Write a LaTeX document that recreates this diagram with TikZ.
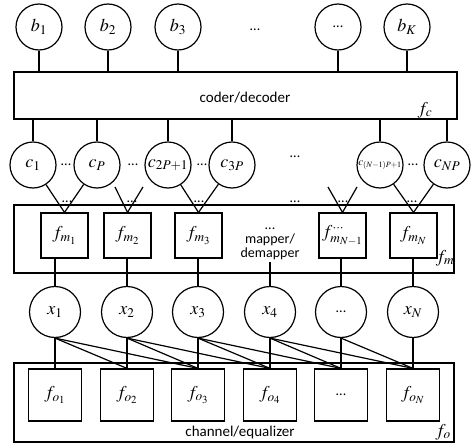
\documentclass[tikz,border=0pt]{standalone}
\usepackage{mathptmx}
\usepackage{fontspec}
\newfontfamily\sansf{Carlito}
\begin{document}
\begin{tikzpicture}[x=1pt,y=-1pt,line width=1.2pt,
  circ/.style={draw,circle,inner sep=0pt,font=\fontsize{18}{20}\selectfont},
  bc/.style={circ,minimum size=46pt},
  xc/.style={circ,minimum size=51pt},
  sq/.style={draw,rectangle,inner sep=0pt,font=\fontsize{18}{20}\selectfont},
  mb/.style={sq,minimum width=47pt,minimum height=45pt},
  ob/.style={sq,minimum width=53pt,minimum height=52pt},
  big/.style={draw,rectangle,inner sep=0pt},
  txt/.style={inner sep=0pt,font=\sansf\fontsize{15}{16}\selectfont},
  mtxt/.style={inner sep=0pt,anchor=base,font=\sansf\fontsize{14}{14}\selectfont},
  lab/.style={inner sep=0pt,font=\fontsize{18}{20}\selectfont},
  dots/.style={inner sep=0pt,anchor=base,font=\sansf\fontsize{14}{14}\selectfont}]
\useasboundingbox (0,0) rectangle (474,447);
% b row
\node[bc] (b1) at (39,27) {$b_1$};
\node[bc] (b2) at (108,27) {$b_2$};
\node[bc] (b3) at (178,27) {$b_3$};
\node[dots] (bd) at (255,30) {...};
\node[bc,font=\sansf\fontsize{14}{14}\selectfont] (b5) at (338,27) {...};
\node[bc] (bK) at (407,27) {$b_K$};
% coder box
\node[big,minimum width=443pt,minimum height=47pt] (coder) at (235.5,95.5) {};
\node[txt] (codertxt) at (245,98) {coder/decoder};
\node[lab] (fc) at (425,110) {$f_c$};
\foreach \n in {b1,b2,b3,b5,bK} \draw (\n) -- (\n |- coder.north);
% c row
\node[bc] (c1) at (33,165) {$c_1$};
\node[bc] (cP) at (97,165) {$c_P$};
\node[bc] (c2) at (168,165) {$c_{2P+1}$};
\node[bc] (c3) at (232,165) {$c_{3P}$};
\node[dots] (cd) at (295,157) {...};
\node[bc,font=\fontsize{11}{12}\selectfont] (cN1) at (380,165) {$c_{(N-1)P+1}$};
\node[bc] (cN) at (447,165) {$c_{NP}$};
\foreach \n in {c1,cP,c2,c3,cN1,cN} \draw (coder.south -| \n) -- (\n);
\node[dots] (d1) at (66,165) {...};
\node[dots] (d2) at (133,165) {...};
\node[dots] (d3) at (202,165) {...};
\node[dots] (d4) at (413,165) {...};
% mapper box
\node[big,minimum width=440pt,minimum height=68pt] (mapper) at (234,239) {};
\node[mb] (fm1) at (64.5,235.5) {$f_{m_1}$};
\node[mb] (fm2) at (127.5,235.5) {$f_{m_2}$};
\node[mb] (fm3) at (198.5,235.5) {$f_{m_3}$};
\node[mb] (fmN1) at (342.5,235.5) {$f^{\cdots}_{m_{N-1}}$};
\node[mb] (fmN) at (413.5,235.5) {$f_{m_N}$};
\node[dots] (mapdots) at (270,229) {...};
\node[mtxt] (maptxt1) at (270,243) {mapper/};
\node[mtxt] (maptxt2) at (270,257) {demapper};
\node[lab] (fmlab) at (445,258) {$f_m$};
\foreach \x/\n in {67/m1,132/m2,199/m3,295/m4,343/m5,412/m6}
  \node[dots] (dd\n) at (\x,202) {...};
\coordinate (v1) at (115,187);
\coordinate (v2) at (143,187);
\coordinate (v3) at (328,187);
\coordinate (v4) at (357,187);
\draw (c1) -- (fm1.north);
\draw (cP) -- (fm1.north);
\draw (v1) -- (fm2.north) -- (v2);
\draw (c2) -- (fm3.north);
\draw (c3) -- (fm3.north);
\draw (v3) -- (fmN1.north) -- (v4);
\draw (cN1) -- (fmN.north);
\draw (cN) -- (fmN.north);
% x row
\node[xc] (x1) at (55,312) {$x_1$};
\node[xc] (x2) at (127,312) {$x_2$};
\node[xc] (x3) at (198,312) {$x_3$};
\node[xc] (x4) at (270,312) {$x_4$};
\node[xc,font=\sansf\fontsize{14}{14}\selectfont] (x5) at (341,312) {...};
\node[xc] (x6) at (413,312) {$x_N$};
\coordinate (m4) at (270,262);
\draw (fm1.south -| x1) -- (x1);
\draw (fm2.south -| x2) -- (x2);
\draw (fm3.south -| x3) -- (x3);
\draw (m4) -- (x4);
\draw (fmN1.south -| x5) -- (x5);
\draw (fmN.south -| x6) -- (x6);
% channel box
\node[big,minimum width=440pt,minimum height=79pt] (chan) at (234,402.5) {};
\node[ob] (fo1) at (55,395) {$f_{o_1}$};
\node[ob] (fo2) at (127,395) {$f_{o_2}$};
\node[ob] (fo3) at (198,395) {$f_{o_3}$};
\node[ob] (fo4) at (270,395) {$f_{o_4}$};
\node[ob,font=\sansf\fontsize{14}{14}\selectfont] (fo5) at (341,395) {...};
\node[ob] (fo6) at (413,395) {$f_{o_N}$};
\node[txt] (chantxt) at (240,432) {channel/equalizer};
\node[lab] (folab) at (443,432) {$f_o$};
\foreach \i in {1,...,6} \draw (x\i) -- (fo\i);
\draw (x1.south) -- (fo2.north);
\draw (x1.south) -- (fo3.north);
\draw (x2.south) -- (fo3.north);
\draw (x2.south) -- (fo4.north);
\draw (x3.south) -- (fo4.north);
\draw (x3.south) -- (fo5.north);
\draw (x4.south) -- (fo5.north);
\draw (x4.south) -- (fo6.north);
\draw (x5.south) -- (fo6.north);
\end{tikzpicture}
\end{document}
